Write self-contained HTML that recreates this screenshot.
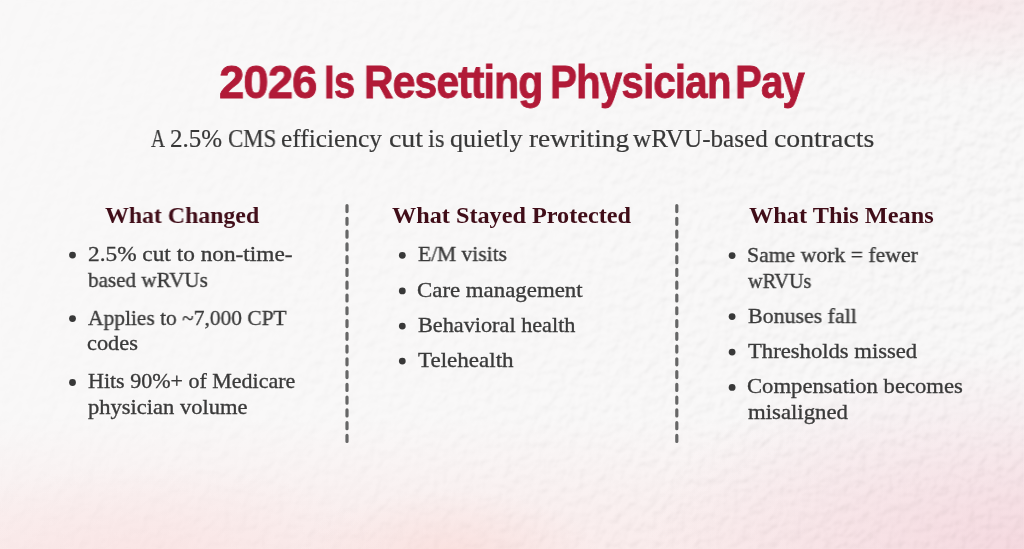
<!DOCTYPE html>
<html><head><meta charset="utf-8"><style>
html,body{margin:0;padding:0;}
body{width:1024px;height:549px;overflow:hidden;position:relative;
background:
 radial-gradient(ellipse 380px 200px at 1024px 549px, rgba(243,208,218,0.65), rgba(243,208,218,0) 100%),
 radial-gradient(ellipse 150px 65px at 450px 555px, rgba(250,212,208,0.45), rgba(250,212,208,0) 100%),
 radial-gradient(ellipse 240px 95px at 150px 560px, rgba(250,222,222,0.5), rgba(250,222,220,0) 100%),
 radial-gradient(ellipse 240px 90px at 970px 0px, rgba(247,228,231,0.75), rgba(248,232,234,0) 100%),
 linear-gradient(to bottom, rgba(250,232,232,0) 0%, rgba(250,232,232,0) 76%, rgba(250,232,232,0.75) 100%),
 #f9f8f8;
}
.t{position:absolute;white-space:nowrap;transform-origin:0 0;will-change:transform;}
.serif{font-family:'Liberation Serif', serif;font-weight:400;}
.serifb{font-family:'Liberation Serif', serif;font-weight:700;}
.sansb{font-family:'Liberation Sans', sans-serif;font-weight:700;}
.ttl{-webkit-text-stroke:0.8px #b11a37;letter-spacing:-1px;}
.sub{-webkit-text-stroke:0.2px #383838;}
.bd{-webkit-text-stroke:0.35px #3a3a3a;}

</style></head><body>
<svg width="1024" height="549" style="position:absolute;left:0;top:0;mix-blend-mode:multiply;opacity:0.27;-webkit-mask-image:linear-gradient(115deg, rgba(0,0,0,0.12) 0%, rgba(0,0,0,0.5) 50%, #000 85%);mask-image:linear-gradient(115deg, rgba(0,0,0,0.12) 0%, rgba(0,0,0,0.5) 50%, #000 85%)">
<filter id="paper" x="0" y="0" width="100%" height="100%" filterUnits="userSpaceOnUse">
<feTurbulence type="fractalNoise" baseFrequency="0.11" numOctaves="3" seed="7" result="n"/>
<feDiffuseLighting in="n" lighting-color="#ffffff" surfaceScale="2.0" diffuseConstant="1.12" result="l">
<feDistantLight azimuth="235" elevation="58"/>
</feDiffuseLighting>
<feGaussianBlur in="l" stdDeviation="0.8"/>
</filter>
<rect x="0" y="0" width="1024" height="549" filter="url(#paper)"/>
</svg>
<svg width="1024" height="549" style="position:absolute;left:0;top:0">
<g stroke="#666666" stroke-width="3.2" stroke-linecap="round" stroke-dasharray="6 6.77" fill="none">
<line x1="347.0" y1="205.6" x2="347.0" y2="443"/>
<line x1="676.8" y1="205.6" x2="676.8" y2="443"/>
</g>
<g fill="#383838">
<circle cx="72.5" cy="255.1" r="3.4"/>
<circle cx="72.5" cy="318.6" r="3.4"/>
<circle cx="72.5" cy="382.5" r="3.4"/>
<circle cx="402.3" cy="255.3" r="3.4"/>
<circle cx="402.3" cy="290.9" r="3.4"/>
<circle cx="402.3" cy="326.1" r="3.4"/>
<circle cx="402.3" cy="361.1" r="3.4"/>
<circle cx="732.1" cy="255.6" r="3.4"/>
<circle cx="732.1" cy="316.6" r="3.4"/>
<circle cx="732.1" cy="352.1" r="3.4"/>
<circle cx="732.1" cy="387.4" r="3.4"/>
</g>
</svg>

<div class="t sansb ttl" style="left:219.21px;top:59.46px;font-size:46px;line-height:46px;color:#b11a37;transform:scaleX(0.9907);">2026</div>
<div class="t sansb ttl" style="left:324.39px;top:59.46px;font-size:46px;line-height:46px;color:#b11a37;transform:scaleX(0.8364);">Is</div>
<div class="t sansb ttl" style="left:363.83px;top:59.46px;font-size:46px;line-height:46px;color:#b11a37;transform:scaleX(0.8888);">Resetting</div>
<div class="t sansb ttl" style="left:549.67px;top:59.46px;font-size:46px;line-height:46px;color:#b11a37;transform:scaleX(0.8776);">Physician</div>
<div class="t sansb ttl" style="left:734.78px;top:59.46px;font-size:46px;line-height:46px;color:#b11a37;transform:scaleX(0.8740);">Pay</div>
<div class="t serif sub" style="left:150.90px;top:126.06px;font-size:25px;line-height:25px;color:#383838;transform:scaleX(0.7778);">A</div>
<div class="t serif sub" style="left:170.20px;top:126.06px;font-size:25px;line-height:25px;color:#383838;">2.5%</div>
<div class="t serif sub" style="left:228.49px;top:126.06px;font-size:25px;line-height:25px;color:#383838;transform:scaleX(0.9120);">CMS</div>
<div class="t serif sub" style="left:281.09px;top:126.06px;font-size:25px;line-height:25px;color:#383838;transform:scaleX(1.0143);">efficiency</div>
<div class="t serif sub" style="left:388.59px;top:126.06px;font-size:25px;line-height:25px;color:#383838;transform:scaleX(1.1138);">cut</div>
<div class="t serif sub" style="left:427.81px;top:126.06px;font-size:25px;line-height:25px;color:#383838;transform:scaleX(0.9867);">is</div>
<div class="t serif sub" style="left:450.15px;top:126.06px;font-size:25px;line-height:25px;color:#383838;transform:scaleX(1.0456);">quietly</div>
<div class="t serif sub" style="left:528.60px;top:126.06px;font-size:25px;line-height:25px;color:#383838;transform:scaleX(1.0923);">rewriting</div>
<div class="t serif sub" style="left:632.70px;top:126.06px;font-size:25px;line-height:25px;color:#383838;transform:scaleX(1.0045);">wRVU-based</div>
<div class="t serif sub" style="left:773.79px;top:126.06px;font-size:25px;line-height:25px;color:#383838;transform:scaleX(1.1114);">contracts</div>
<div class="t serifb hd" style="left:104.60px;top:202.60px;font-size:24px;line-height:24px;color:#400d18;transform:scaleX(0.9923);">What Changed</div>
<div class="t serifb hd" style="left:392.20px;top:202.60px;font-size:24px;line-height:24px;color:#400d18;transform:scaleX(1.0093);">What Stayed Protected</div>
<div class="t serifb hd" style="left:749.40px;top:202.60px;font-size:24px;line-height:24px;color:#400d18;transform:scaleX(1.0129);">What This Means</div>
<div class="t serif bd" style="left:87.54px;top:243.08px;font-size:22px;line-height:22px;color:#3a3a3a;transform:scaleX(1.0594);">2.5% cut to non-time-</div>
<div class="t serif bd" style="left:88.20px;top:269.38px;font-size:22px;line-height:22px;color:#3a3a3a;transform:scaleX(0.9605);">based wRVUs</div>
<div class="t serif bd" style="left:88.20px;top:306.58px;font-size:22px;line-height:22px;color:#3a3a3a;transform:scaleX(0.9745);">Applies to ~7,000 CPT</div>
<div class="t serif bd" style="left:87.38px;top:332.48px;font-size:22px;line-height:22px;color:#3a3a3a;transform:scaleX(1.0163);">codes</div>
<div class="t serif bd" style="left:88.40px;top:370.48px;font-size:22px;line-height:22px;color:#3a3a3a;">Hits 90%+ of Medicare</div>
<div class="t serif bd" style="left:88.40px;top:395.88px;font-size:22px;line-height:22px;color:#3a3a3a;transform:scaleX(1.0232);">physician volume</div>
<div class="t serif bd" style="left:418.30px;top:243.38px;font-size:22px;line-height:22px;color:#3a3a3a;transform:scaleX(0.9769);">E/M visits</div>
<div class="t serif bd" style="left:417.26px;top:278.98px;font-size:22px;line-height:22px;color:#3a3a3a;transform:scaleX(1.0386);">Care management</div>
<div class="t serif bd" style="left:418.30px;top:314.18px;font-size:22px;line-height:22px;color:#3a3a3a;transform:scaleX(1.0109);">Behavioral health</div>
<div class="t serif bd" style="left:418.30px;top:349.18px;font-size:22px;line-height:22px;color:#3a3a3a;transform:scaleX(1.0473);">Telehealth</div>
<div class="t serif bd" style="left:747.41px;top:243.88px;font-size:22px;line-height:22px;color:#3a3a3a;transform:scaleX(0.9872);">Same work = fewer</div>
<div class="t serif bd" style="left:747.80px;top:269.58px;font-size:22px;line-height:22px;color:#3a3a3a;transform:scaleX(0.9174);">wRVUs</div>
<div class="t serif bd" style="left:748.40px;top:304.68px;font-size:22px;line-height:22px;color:#3a3a3a;transform:scaleX(0.9945);">Bonuses fall</div>
<div class="t serif bd" style="left:748.40px;top:340.18px;font-size:22px;line-height:22px;color:#3a3a3a;transform:scaleX(1.0293);">Thresholds missed</div>
<div class="t serif bd" style="left:747.17px;top:375.38px;font-size:22px;line-height:22px;color:#3a3a3a;transform:scaleX(1.0298);">Compensation becomes</div>
<div class="t serif bd" style="left:748.40px;top:401.38px;font-size:22px;line-height:22px;color:#3a3a3a;transform:scaleX(1.0354);">misaligned</div>
</body></html>
